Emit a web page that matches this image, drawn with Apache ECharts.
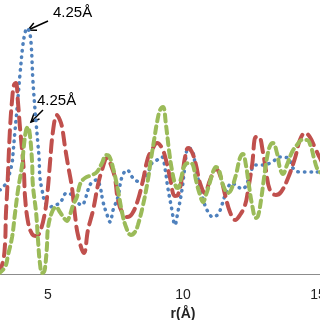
<!DOCTYPE html>
<html>
<head>
<meta charset="utf-8">
<script src="https://cdn.jsdelivr.net/npm/echarts@6/dist/echarts.min.js"></script>
<style>
  html, body { margin: 0; padding: 0; background: #fff; }
  #rdf { width: 320px; height: 320px; }
</style>
</head>
<body>
<div id="rdf"></div>
<script>
// blue dotted curve
const blueR = [3.22, 3.30, 3.48, 3.59, 3.67, 3.70, 3.78, 3.85, 3.96, 4.07, 4.15, 4.22, 4.30, 4.37, 4.44, 4.52, 4.56, 4.63, 4.67, 4.70, 4.78, 4.89, 5.07, 5.26, 5.44, 5.70, 5.89, 6.11, 6.26, 6.37, 6.48, 6.63, 6.81, 6.93, 7.04, 7.19, 7.30, 7.41, 7.59, 7.74, 7.93, 8.15, 8.41, 8.67, 8.85, 9.04, 9.22, 9.33, 9.44, 9.59, 9.70, 9.81, 9.96, 10.07, 10.19, 10.33, 10.44, 10.63, 10.81, 11.00, 11.11, 11.30, 11.44, 11.63, 11.81, 12.00, 12.19, 12.33, 12.48, 12.67, 12.96, 13.30, 13.59, 13.89, 14.07, 14.33, 14.70, 15.07, 15.44]
const blueG = [84, 86, 92, 102, 111, 119, 144, 164, 199, 229, 241, 246, 243, 232, 194, 164, 151, 129, 116, 97, 84, 72, 67, 69, 71, 81, 79, 71, 69, 74, 84, 92, 94, 87, 72, 59, 52, 64, 77, 97, 104, 96, 92, 99, 111, 114, 117, 106, 86, 64, 49, 62, 84, 107, 126, 124, 112, 86, 69, 59, 57, 60, 69, 84, 91, 88, 85, 88, 99, 109, 109, 112, 117, 116, 106, 102, 102, 102, 100]

// red long dashes
const redR = [3.15, 3.33, 3.41, 3.44, 3.48, 3.52, 3.59, 3.67, 3.74, 3.81, 3.89, 3.96, 4.04, 4.11, 4.15, 4.26, 4.41, 4.56, 4.70, 4.89, 5.00, 5.07, 5.19, 5.33, 5.44, 5.52, 5.63, 5.74, 5.89, 6.00, 6.11, 6.33, 6.48, 6.67, 6.85, 7.00, 7.19, 7.37, 7.48, 7.59, 7.74, 7.93, 8.11, 8.33, 8.52, 8.70, 8.85, 9.04, 9.22, 9.37, 9.52, 9.70, 9.81, 9.96, 10.07, 10.19, 10.33, 10.48, 10.63, 10.81, 11.00, 11.22, 11.37, 11.56, 11.74, 11.93, 12.11, 12.30, 12.41, 12.56, 12.70, 12.81, 12.96, 13.07, 13.22, 13.44, 13.63, 13.89, 14.15, 14.33, 14.52, 14.70, 14.89, 15.07, 15.44]
const redG = [0, 12, 31, 59, 79, 102, 144, 174, 189, 191, 171, 147, 124, 101, 77, 52, 40, 38, 42, 62, 87, 110, 144, 159, 154, 147, 127, 109, 86, 59, 39, 21, 44, 64, 89, 104, 116, 106, 96, 74, 62, 57, 60, 74, 94, 116, 124, 131, 126, 114, 96, 78, 79, 96, 116, 126, 122, 109, 91, 81, 94, 105, 99, 79, 62, 54, 59, 69, 84, 109, 137, 137, 122, 104, 84, 79, 82, 96, 116, 134, 141, 137, 126, 116, 95]

// green short dashes
const greenR = [3.15, 3.41, 3.52, 3.67, 3.78, 3.89, 4.04, 4.11, 4.19, 4.26, 4.33, 4.41, 4.44, 4.56, 4.63, 4.70, 4.78, 4.85, 4.89, 4.96, 5.00, 5.15, 5.30, 5.44, 5.59, 5.70, 5.81, 5.93, 6.07, 6.19, 6.37, 6.63, 6.81, 7.00, 7.15, 7.26, 7.41, 7.59, 7.74, 7.89, 8.07, 8.22, 8.33, 8.52, 8.70, 8.81, 8.93, 9.04, 9.15, 9.26, 9.37, 9.48, 9.59, 9.74, 9.81, 9.93, 10.07, 10.26, 10.37, 10.48, 10.63, 10.74, 10.85, 11.00, 11.11, 11.22, 11.33, 11.48, 11.67, 11.78, 11.96, 12.11, 12.22, 12.33, 12.44, 12.56, 12.70, 12.78, 12.89, 13.00, 13.11, 13.22, 13.33, 13.48, 13.59, 13.70, 13.85, 14.04, 14.22, 14.41, 14.59, 14.74, 14.85, 14.96, 15.07, 15.44]
const greenG = [0, 7, 19, 37, 61, 84, 109, 129, 144, 147, 139, 112, 89, 61, 34, 11, 1, 2, 6, 27, 46, 62, 67, 62, 56, 53, 59, 69, 77, 90, 96, 99, 102, 111, 119, 118, 106, 84, 62, 47, 39, 42, 49, 69, 94, 114, 134, 152, 164, 167, 149, 124, 104, 87, 86, 96, 109, 111, 109, 94, 79, 72, 79, 92, 102, 107, 104, 89, 81, 84, 99, 116, 120, 109, 89, 69, 56, 58, 74, 96, 116, 128, 131, 121, 106, 100, 109, 122, 129, 134, 134, 127, 116, 106, 102, 95]

// x axis ticks and the two peak labels
const xTicks = [0, 5, 10, 15, 20]
const noteText = ['4.25Å', '4.25Å']
const noteR = [4.26, 4.37]
const noteG = [244, 152]

const pairs = (xs, ys) => xs.map((x, i) => [x, ys[i]])

const chart = echarts.init(document.getElementById('rdf'))

chart.setOption({
  animation: false,
  // the plot is wider than the window, only 3.2..15 A is visible
  grid: { left: -87, right: -133, top: 0, bottom: 46, containLabel: false, outerBoundsMode: 'none' },
  xAxis: {
    type: 'value',
    min: xTicks[0],
    max: xTicks[xTicks.length - 1],
    interval: 5,
    name: 'r(Å)',
    nameLocation: 'middle',
    nameGap: 30,
    nameTextStyle: { fontFamily: 'Liberation Sans', fontSize: 14, fontWeight: 'bold', color: '#222' },
    axisLine: { lineStyle: { color: '#8c8c8c', width: 1 } },
    axisTick: { show: false },
    splitLine: { show: false },
    axisLabel: { fontFamily: 'Liberation Sans', fontSize: 14, color: '#222', margin: 14 }
  },
  yAxis: {
    type: 'value',
    min: 0,
    max: 274,
    show: false,
    splitLine: { show: false }
  },
  series: [
    {
      type: 'line',
      data: pairs(blueR, blueG),
      smooth: 0.4,
      symbol: 'none',
      lineStyle: { color: '#4F81BD', width: 3.5, type: [0.5, 6], cap: 'round' }
    },
    {
      type: 'line',
      data: pairs(redR, redG),
      smooth: 0.4,
      symbol: 'none',
      lineStyle: { color: '#C0504D', width: 4, type: [12, 7], cap: 'round' }
    },
    {
      type: 'line',
      data: pairs(greenR, greenG),
      smooth: 0.4,
      symbol: 'none',
      lineStyle: { color: '#9BBB59', width: 4, type: [7, 5], cap: 'round' }
    }
  ]
})

// arrows + labels, placed from the peak positions
const tails = [[20, -9], [12, -12]]
const textPos = [[25, -17], [6, -21]]
const graphics = []
noteR.forEach((r, i) => {
  const tip = chart.convertToPixel({ gridIndex: 0 }, [r, noteG[i]])
  const tail = [tip[0] + tails[i][0], tip[1] + tails[i][1]]
  const ang = Math.atan2(tail[1] - tip[1], tail[0] - tip[0])
  const head = (a) => [tip[0] + 9 * Math.cos(ang + a), tip[1] + 9 * Math.sin(ang + a)]
  graphics.push({
    type: 'line',
    shape: { x1: tail[0], y1: tail[1], x2: tip[0], y2: tip[1] },
    style: { stroke: '#000', lineWidth: 1.5 }
  })
  graphics.push({
    type: 'polyline',
    shape: { points: [head(0.45), tip, head(-0.45)] },
    style: { stroke: '#000', lineWidth: 1.5, fill: null }
  })
  graphics.push({
    type: 'text',
    x: tip[0] + textPos[i][0],
    y: tip[1] + textPos[i][1],
    style: {
      text: noteText[i],
      fontFamily: 'Liberation Sans',
      fontSize: 15,
      fill: '#000',
      verticalAlign: 'middle'
    }
  })
})
chart.setOption({ graphic: graphics })
</script>
</body>
</html>
